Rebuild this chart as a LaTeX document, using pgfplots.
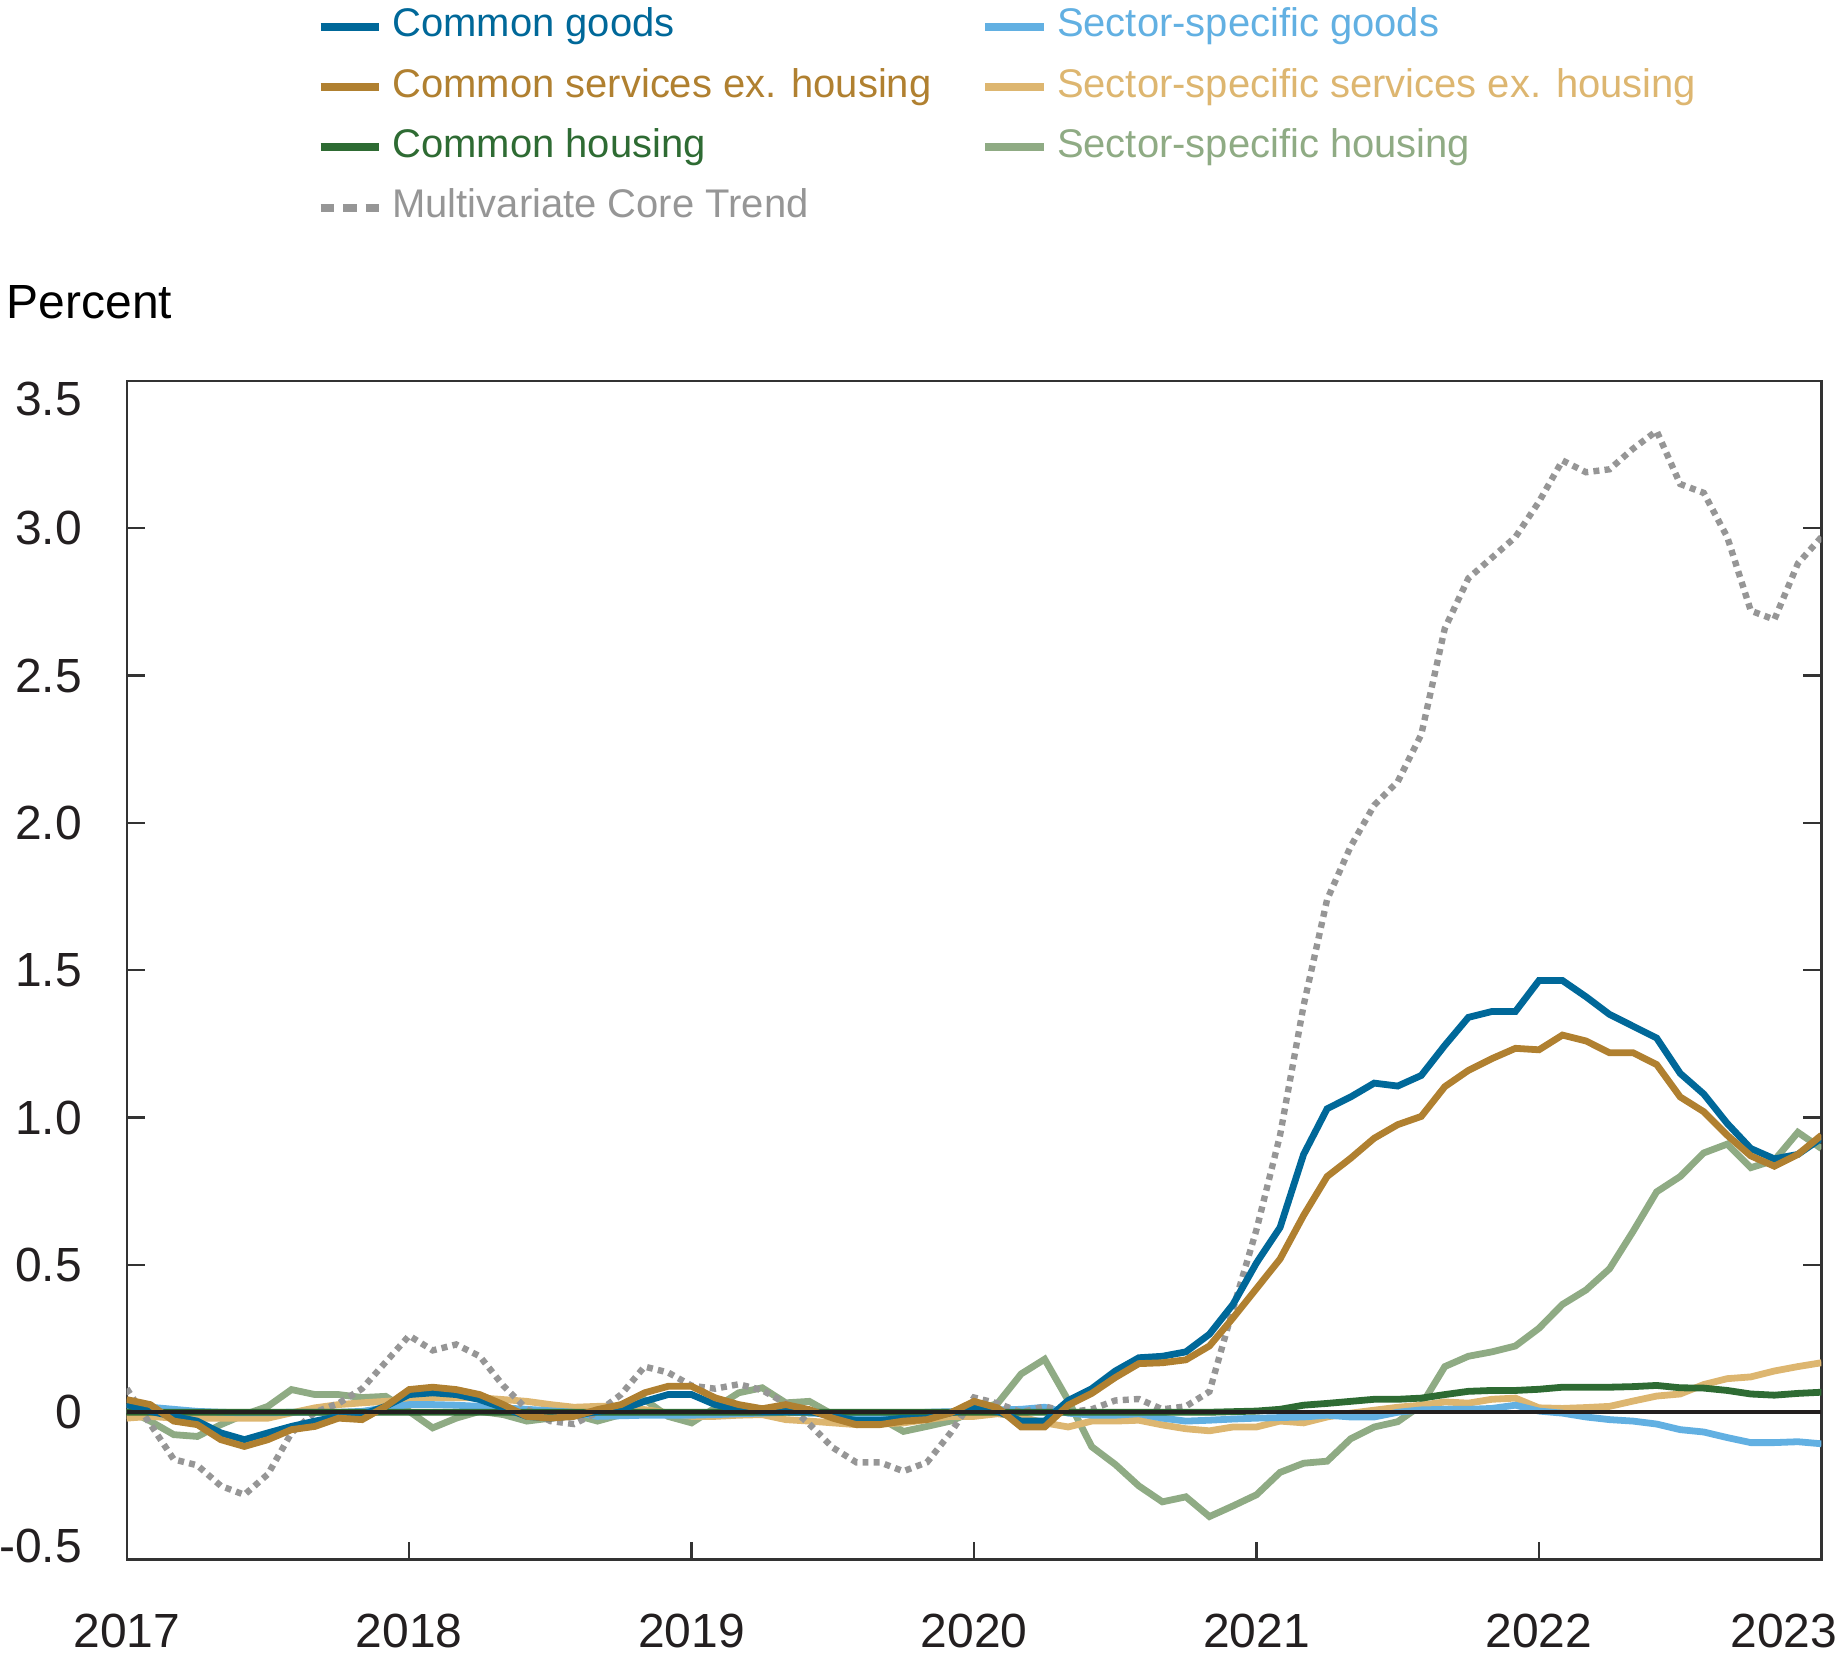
\documentclass[border=0pt]{standalone}
\usepackage{pgfplots}
\pgfplotsset{compat=1.18}
\usepackage{pgfplotstable}
\usepackage{fontspec}
\setmainfont{Liberation Sans}

\definecolor{cgoods}{RGB}{0,104,153}
\definecolor{sgoods}{RGB}{98,176,226}
\definecolor{cserv}{RGB}{176,128,48}
\definecolor{sserv}{RGB}{221,182,112}
\definecolor{chous}{RGB}{46,107,51}
\definecolor{shous}{RGB}{143,171,132}
\definecolor{mct}{RGB}{150,150,150}
\definecolor{axisgray}{RGB}{51,51,51}
\definecolor{labelgray}{RGB}{35,31,32}

% month index (0 = Jan 2017), contributions in percent
\pgfplotstableread{
m  cg     sg     cs     ss     ch    sh     mct
0  0.026  0.026  0.043  -0.020 0.000 0.010  0.08
1  0.003  0.017  0.026  -0.014 0.000 -0.030 -0.04
2  -0.014 0.010  -0.030 -0.020 0.000 -0.076 -0.16
3  -0.030 0.003  -0.042 -0.020 0.000 -0.082 -0.18
4  -0.070 0.000  -0.093 -0.020 0.000 -0.042 -0.25
5  -0.093 -0.002 -0.116 -0.020 0.000 -0.008 -0.28
6  -0.070 -0.002 -0.093 -0.020 0.000 0.020  -0.21
7  -0.048 0.000  -0.059 -0.002 0.000 0.077  -0.07
8  -0.030 0.000  -0.048 0.015  0.000 0.060  0.00
9  -0.014 0.000  -0.020 0.026  0.000 0.060  0.03
10 -0.008 0.003  -0.025 0.032  0.000 0.050  0.08
11 0.020  0.015  0.020  0.037  0.000 0.054  0.17
12 0.060  0.026  0.077  0.043  0.000 0.003  0.26
13 0.066  0.026  0.085  0.049  0.000 -0.053 0.21
14 0.060  0.024  0.077  0.049  0.000 -0.020 0.23
15 0.043  0.020  0.060  0.049  0.000 0.003  0.19
16 0.015  0.015  0.026  0.043  0.000 -0.008 0.09
17 -0.014 0.010  -0.014 0.037  0.000 -0.030 0.01
18 -0.020 0.005  -0.020 0.026  0.000 -0.020 -0.03
19 -0.012 0.000  -0.014 0.017  0.000 -0.008 -0.04
20 0.003  -0.014 0.009  0.020  0.000 -0.030 0.00
21 0.009  -0.012 0.026  0.020  0.000 -0.008 0.06
22 0.037  -0.010 0.066  0.009  0.000 0.043  0.155
23 0.060  -0.010 0.088  -0.002 0.000 -0.014 0.135
24 0.060  -0.010 0.088  -0.014 0.000 -0.036 0.09
25 0.026  -0.008 0.049  -0.014 0.000 0.015  0.08
26 0.009  -0.005 0.026  -0.010 0.000 0.066  0.095
27 0.003  -0.003 0.012  -0.008 0.000 0.083  0.075
28 0.003  0.000  0.026  -0.025 0.000 0.032  0.03
29 0.003  -0.003 0.009  -0.030 0.000 0.037  -0.04
30 -0.014 -0.005 -0.020 -0.036 0.000 -0.008 -0.12
31 -0.028 -0.008 -0.042 -0.042 0.000 -0.025 -0.17
32 -0.028 -0.010 -0.042 -0.040 0.000 -0.020 -0.17
33 -0.020 -0.005 -0.030 -0.036 0.000 -0.065 -0.20
34 -0.020 0.000  -0.025 -0.025 0.000 -0.048 -0.17
35 -0.002 0.002  -0.002 -0.014 0.000 -0.030 -0.07
36 0.015  0.005  0.037  -0.014 0.000 0.003  0.05
37 0.003  0.008  0.015  -0.005 0.000 0.030  0.03
38 -0.030 0.010  -0.050 -0.016 0.000 0.130  0.00
39 -0.030 0.017  -0.050 -0.036 0.000 0.180  0.02
40 0.040  -0.003 0.024  -0.050 0.000 0.040  0.00
41 0.080  -0.010 0.064  -0.030 0.000 -0.117 0.01
42 0.140  -0.010 0.118  -0.030 0.000 -0.177 0.04
43 0.185  -0.005 0.165  -0.027 0.000 -0.250 0.045
44 0.190  -0.020 0.168  -0.043 0.000 -0.304 0.01
45 0.205  -0.030 0.178  -0.056 0.000 -0.287 0.02
46 0.265  -0.027 0.225  -0.063 0.000 -0.354 0.07
47 0.366  -0.023 0.320  -0.050 0.002 -0.318 0.35
48 0.507  -0.020 0.420  -0.050 0.004 -0.280 0.62
49 0.627  -0.018 0.520  -0.030 0.010 -0.204 0.94
50 0.875  -0.016 0.668  -0.036 0.024 -0.173 1.38
51 1.030  -0.010 0.800  -0.016 0.030 -0.166 1.74
52 1.070  -0.016 0.862  -0.003 0.037 -0.090 1.92
53 1.117  -0.016 0.930  0.007  0.044 -0.050 2.06
54 1.107  0.000  0.976  0.017  0.044 -0.032 2.14
55 1.143  0.008  1.004  0.024  0.048 0.024  2.30
56 1.245  0.010  1.105  0.035  0.060 0.155  2.66
57 1.340  0.010  1.160  0.031  0.071 0.190  2.83
58 1.360  0.013  1.200  0.044  0.074 0.205  2.90
59 1.360  0.024  1.235  0.048  0.074 0.225  2.97
60 1.465  0.004  1.230  0.015  0.078 0.285  3.09
61 1.465  -0.003 1.280  0.013  0.085 0.366  3.23
62 1.410  -0.016 1.260  0.016  0.085 0.415  3.19
63 1.350  -0.025 1.220  0.020  0.085 0.487  3.20
64 1.310  -0.030 1.220  0.038  0.087 0.614  3.27
65 1.270  -0.040 1.180  0.055  0.091 0.748  3.33
66 1.150  -0.059 1.070  0.062  0.083 0.800  3.15
67 1.080  -0.067 1.020  0.094  0.082 0.880  3.12
68 0.980  -0.086 0.940  0.114  0.074 0.910  2.97
69 0.895  -0.103 0.870  0.120  0.062 0.830  2.72
70 0.860  -0.103 0.835  0.140  0.058 0.855  2.69
71 0.875  -0.100 0.875  0.155  0.064 0.950  2.88
72 0.930  -0.107 0.940  0.168  0.068 0.895  2.97
}\core

\begin{document}
\begin{tikzpicture}
\begin{axis}[
  at={(0,0)}, anchor=south west,
  width=424pt, height=294.9pt, scale only axis,
  xmin=0, xmax=72, ymin=-0.5, ymax=3.5,
  axis line style={draw=axisgray, line width=0.6pt},
  xtick={0,12,24,36,48,60,72},
  xticklabels={2017,2018,2019,2020,2021,2022,{\makebox[0pt][c]{\hspace*{-18.8pt}2023}}},
  ytick={-0.5,0,0.5,1,1.5,2,2.5,3,3.5},
  yticklabels={{\raisebox{3.5pt}[8.6pt][0pt]{-0.5}},0,0.5,1.0,1.5,2.0,2.5,3.0,{\raisebox{-4.4pt}[8.6pt][0pt]{3.5}}},
  tick align=inside, major tick length=4.5pt,
  xtick pos=left, ytick pos=both,
  xticklabel pos=left, yticklabel pos=left,
  tick style={draw=axisgray, line width=0.6pt},
  ticklabel style={font=\fontsize{12}{14}\selectfont, text=labelgray},
  yticklabel style={anchor=east, inner sep=0pt, xshift=-11pt},
  xticklabel style={anchor=north, inner sep=0pt, yshift=-13.3pt},
  legend columns=2,
  legend cell align=left,
  legend style={at={(0.1120,1.3174)}, anchor=north west, draw=none, fill=none,
    inner sep=0pt, outer sep=0pt, row sep=5.1pt,
    nodes={inner sep=0pt, text height=7.5pt, text depth=2.5pt, font=\fontsize{10}{12}\selectfont},
    /tikz/every odd column/.append style={column sep=2.3pt},
    /tikz/every even column/.append style={column sep=12.4pt}},
  legend image code/.code={\draw[#1] (0pt,0pt) -- (14.7pt,0pt);},
]
% legend swatches, in the reference's order
\addlegendimage{cgoods, line width=2pt}
\addlegendentry{\textcolor{cgoods}{Common goods}}
\addlegendimage{sgoods, line width=2pt}
\addlegendentry{\textcolor{sgoods}{Sector-specific goods}}
\addlegendimage{cserv, line width=2pt}
\addlegendentry{\textcolor{cserv}{Common services ex. housing}}
\addlegendimage{sserv, line width=2pt}
\addlegendentry{\textcolor{sserv}{Sector-specific services ex. housing}}
\addlegendimage{chous, line width=2pt}
\addlegendentry{\textcolor{chous}{Common housing}}
\addlegendimage{shous, line width=2pt}
\addlegendentry{\textcolor{shous}{Sector-specific housing}}
\addlegendimage{mct, line width=2pt, dash pattern=on 3.4pt off 2.25pt}
\addlegendentry{\textcolor{mct}{Multivariate Core Trend}}

% series
\addplot[forget plot, shous, line width=1.7pt] table[x=m, y=sh] {\core};
\addplot[forget plot, sserv, line width=1.7pt] table[x=m, y=ss] {\core};
\addplot[forget plot, sgoods, line width=1.7pt] table[x=m, y=sg] {\core};
\addplot[forget plot, mct, line width=1.6pt, dash pattern=on 1.5pt off 1.3pt] table[x=m, y=mct] {\core};
\addplot[forget plot, chous, line width=1.7pt] table[x=m, y=ch] {\core};
\addplot[forget plot, cgoods, line width=1.7pt] table[x=m, y=cg] {\core};
\addplot[forget plot, cserv, line width=1.7pt] table[x=m, y=cs] {\core};
% zero line
\addplot[forget plot, labelgray, line width=1.1pt] coordinates {(0,0) (72,0)};
\end{axis}
\node[anchor=base west, inner sep=0pt, font=\fontsize{12}{14}\selectfont, text=black] at (-30.2pt,310.4pt) {Percent};
\pgfresetboundingbox
\path[use as bounding box] (-31.7pt,-26.4pt) rectangle (428.4pt,390.2pt);
\end{tikzpicture}
\end{document}
